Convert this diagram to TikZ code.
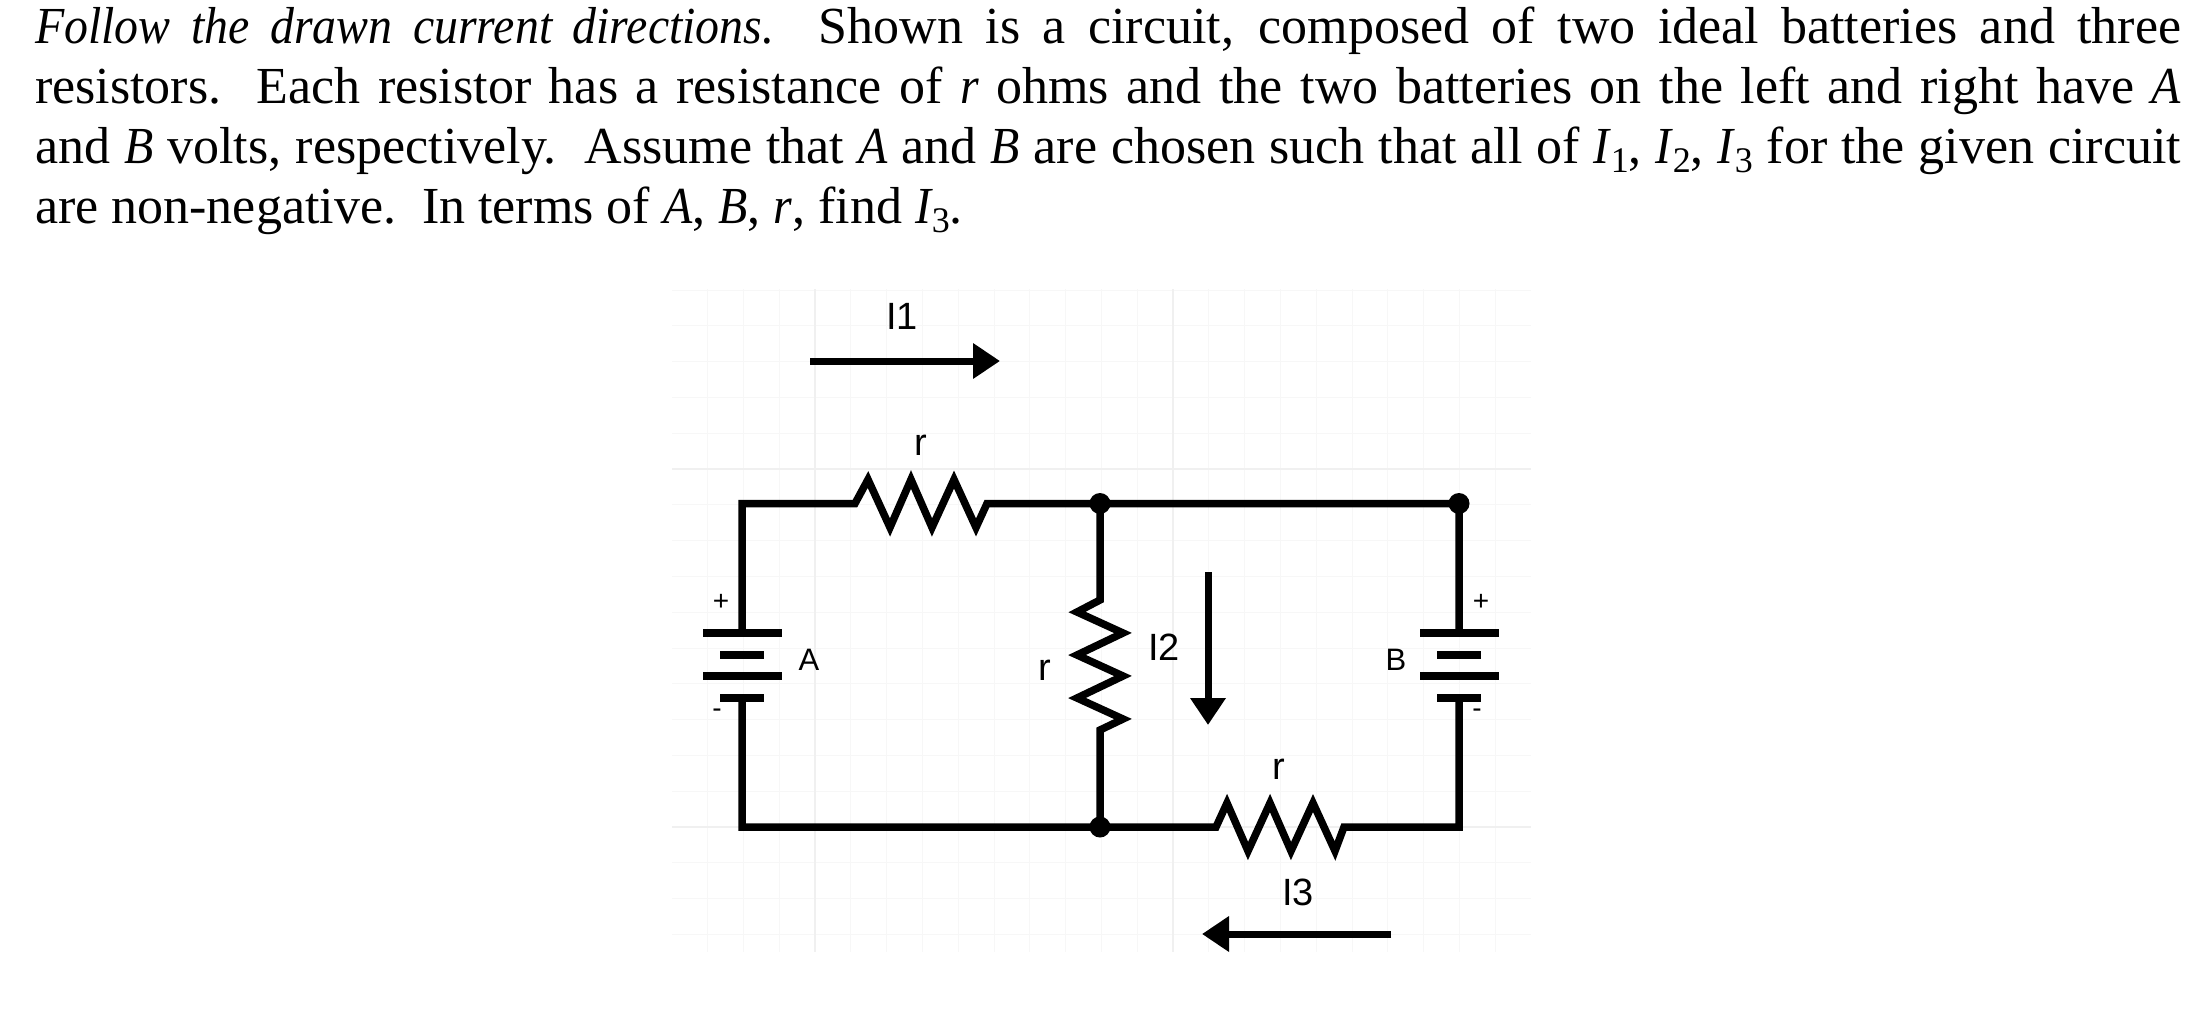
\documentclass[tikz,border=0pt]{standalone}
\usepackage{fontspec}
\setmainfont{Liberation Serif}[ItalicFeatures={FakeStretch=0.92}]
\setsansfont{Liberation Sans}
\usetikzlibrary{arrows.meta}

\newcommand{\Isub}[1]{\textit{I}\kern-1pt\raisebox{-9pt}{\fontsize{36}{36}\selectfont #1}}

\tikzset{
  wire/.style={line width=7.5pt},
  current/.style={line width=7pt,-{Triangle[length=27pt,width=34pt]}},
  junction/.style={circle,fill=black,minimum size=21pt,inner sep=0pt},
  longplate/.style={rectangle,fill=black,minimum width=79pt,minimum height=8pt,inner sep=0pt},
  shortplate/.style={rectangle,fill=black,minimum width=44pt,minimum height=8pt,inner sep=0pt},
  biglabel/.style={font=\sffamily\fontsize{38}{38}\selectfont,inner sep=0pt},
  midlabel/.style={font=\sffamily\fontsize{31}{31}\selectfont,inner sep=0pt},
  signlabel/.style={font=\sffamily\fontsize{28}{28}\selectfont,inner sep=0pt},
  gridline/.style={line width=1pt,black!3},
  strongline/.style={line width=1.5pt,black!6}
}

\begin{document}
\begin{tikzpicture}[x=1pt,y=-1pt]
\useasboundingbox (0,0) rectangle (2195,1020);
% Resistor shapes
\def\ZigAcross{-- ++(13,-24) -- ++(22,48) -- ++(21,-48) -- ++(21,48) -- ++(22,-48) -- ++(22,48) -- ++(11,-24)}
\def\ZigDown{-- ++(-23,12) -- ++(46,21) -- ++(-46,22) -- ++(46,21) -- ++(-46,22) -- ++(46,21) -- ++(-23,11)}
\def\ZigBack{-- ++(11,-24) -- ++(21,48) -- ++(22,-48) -- ++(21,48) -- ++(22,-48) -- ++(22,48) -- ++(9,-24)}

% Background grid
\foreach \i in {-3,...,19}
  \draw[gridline] ({815+\i*35.8},289) -- ({815+\i*35.8},952);
\foreach \i in {-5,...,13}
  \draw[gridline] (672,{469+\i*35.8}) -- (1531,{469+\i*35.8});
\foreach \i in {0,10} {
  \draw[strongline] ({815+\i*35.8},289) -- ({815+\i*35.8},952);
  \draw[strongline] (672,{469+\i*35.8}) -- (1531,{469+\i*35.8});
}

% Statement
\node[anchor=north west,inner sep=0pt,text width=2146pt,align=justify,
      font=\fontsize{52}{60}\selectfont] (Statement) at (35,7) {%
\textit{Follow the drawn current directions.}\ \ Shown is a circuit, composed of two ideal batteries and three\linebreak
resistors.\ \ Each resistor has a resistance of \textit{r} ohms and the two batteries on the left and right have \textit{A}\linebreak
and \textit{B} volts, respectively.\ \ Assume that \textit{A} and \textit{B} are chosen such that all of \Isub{1}, \Isub{2}, \Isub{3} for the given circuit\linebreak
are non-negative.\ \ In terms of \textit{A}, \textit{B}, \textit{r}, find \Isub{3}.};

% Corners and resistor ends
\coordinate (TopLeft) at (742,503.5);
\coordinate (BottomLeft) at (742,827);
\coordinate (BottomRight) at (1459,827);
\coordinate (BeginTopR) at (855,503.5);
\coordinate (BeginMidR) at (1100,600);
\coordinate (BeginLowR) at (1216,827);

% Junctions
\node[junction] (TopMid) at (1100,503.5) {};
\node[junction] (TopRight) at (1459,503.5) {};
\node[junction] (BottomMid) at (1100,827) {};

% Batteries
\node[longplate] (APlus) at (742,633) {};
\node[shortplate] (ACellOne) at (742,655) {};
\node[longplate] (ACellTwo) at (742,676) {};
\node[shortplate] (AMinus) at (742,698) {};
\node[longplate] (BPlus) at (1459,633) {};
\node[shortplate] (BCellOne) at (1459,655) {};
\node[longplate] (BCellTwo) at (1459,676) {};
\node[shortplate] (BMinus) at (1459,698) {};

% Wires
\draw[wire] (APlus.center) -- (TopLeft) -- (BeginTopR) \ZigAcross -- (TopMid.center) -- (TopRight.center) -- (BPlus.center);
\draw[wire] (TopMid.center) -- (BeginMidR) \ZigDown -- (BottomMid.center);
\draw[wire] (AMinus.center) -- (BottomLeft) -- (BottomMid.center) -- (BeginLowR) \ZigBack -- (BottomRight) -- (BMinus.center);

% Currents
\coordinate (BeginIOne) at (810,361);
\coordinate (EndIOne) at (1000,361);
\coordinate (BeginITwo) at (1208,572);
\coordinate (EndITwo) at (1208,725);
\coordinate (BeginIThree) at (1391,934);
\coordinate (EndIThree) at (1202,934);
\draw[current] (BeginIOne) -- (EndIOne);
\draw[current] (BeginITwo) -- (EndITwo);
\draw[current] (BeginIThree) -- (EndIThree);

% Labels
\node[biglabel] (LabelIOne) at (902,316.5) {I1};
\node[biglabel] (LabelITwo) at (1164,647) {I2};
\node[biglabel] (LabelIThree) at (1298,892) {I3};
\node[biglabel,anchor=base] (LabelRTop) at (921,455) {r};
\node[biglabel,anchor=base] (LabelRMid) at (1045,680) {r};
\node[biglabel,anchor=base] (LabelRLow) at (1279,779) {r};
\node[midlabel] (LabelA) at (809,660) {A};
\node[midlabel] (LabelB) at (1396,660) {B};
\node[signlabel] (APlusSign) at (721,602) {+};
\node[signlabel] (AMinusSign) at (717,713) {-};
\node[signlabel] (BPlusSign) at (1481,602) {+};
\node[signlabel] (BMinusSign) at (1477,713) {-};

\end{tikzpicture}
\end{document}
